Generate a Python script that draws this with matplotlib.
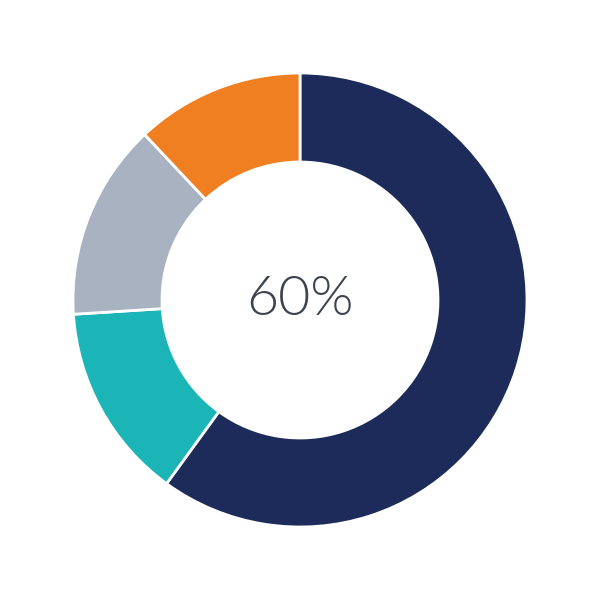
import matplotlib
matplotlib.use("Agg")
import matplotlib.pyplot as plt
from matplotlib import font_manager as fm

# ---- data ------------------------------------------------------------------
shares = [60, 14, 14, 12]
colors = ["#1c2b5a", "#1bb5b8", "#a8b2c1", "#f07f22"]
center_label = "60%"

# prefer Lato Light file if present, else regular Lato
light = [f for f in fm.findSystemFonts() if "lato" in f.lower() and f.lower().endswith("-light.ttf")]
if light:
    fprop = fm.FontProperties(fname=light[0], size=40)
else:
    fprop = fm.FontProperties(family=["Lato", "DejaVu Sans"], weight="normal", size=40)

fig = plt.figure(figsize=(6, 6), dpi=100)
ax = fig.add_axes([0, 0, 1, 1])
ax.pie(shares, colors=colors, startangle=90, counterclock=False, radius=1.0,
       wedgeprops=dict(width=89 / 227, edgecolor="white", linewidth=2))
lim = 300 / 227
ax.set_xlim(-lim, lim); ax.set_ylim(-lim, lim)
ax.set_aspect("equal"); ax.axis("off")
ax.text(0, 0, center_label, ha="center", va="center", fontproperties=fprop, color="#3c4350")

fig.savefig("out.png", dpi=100)
